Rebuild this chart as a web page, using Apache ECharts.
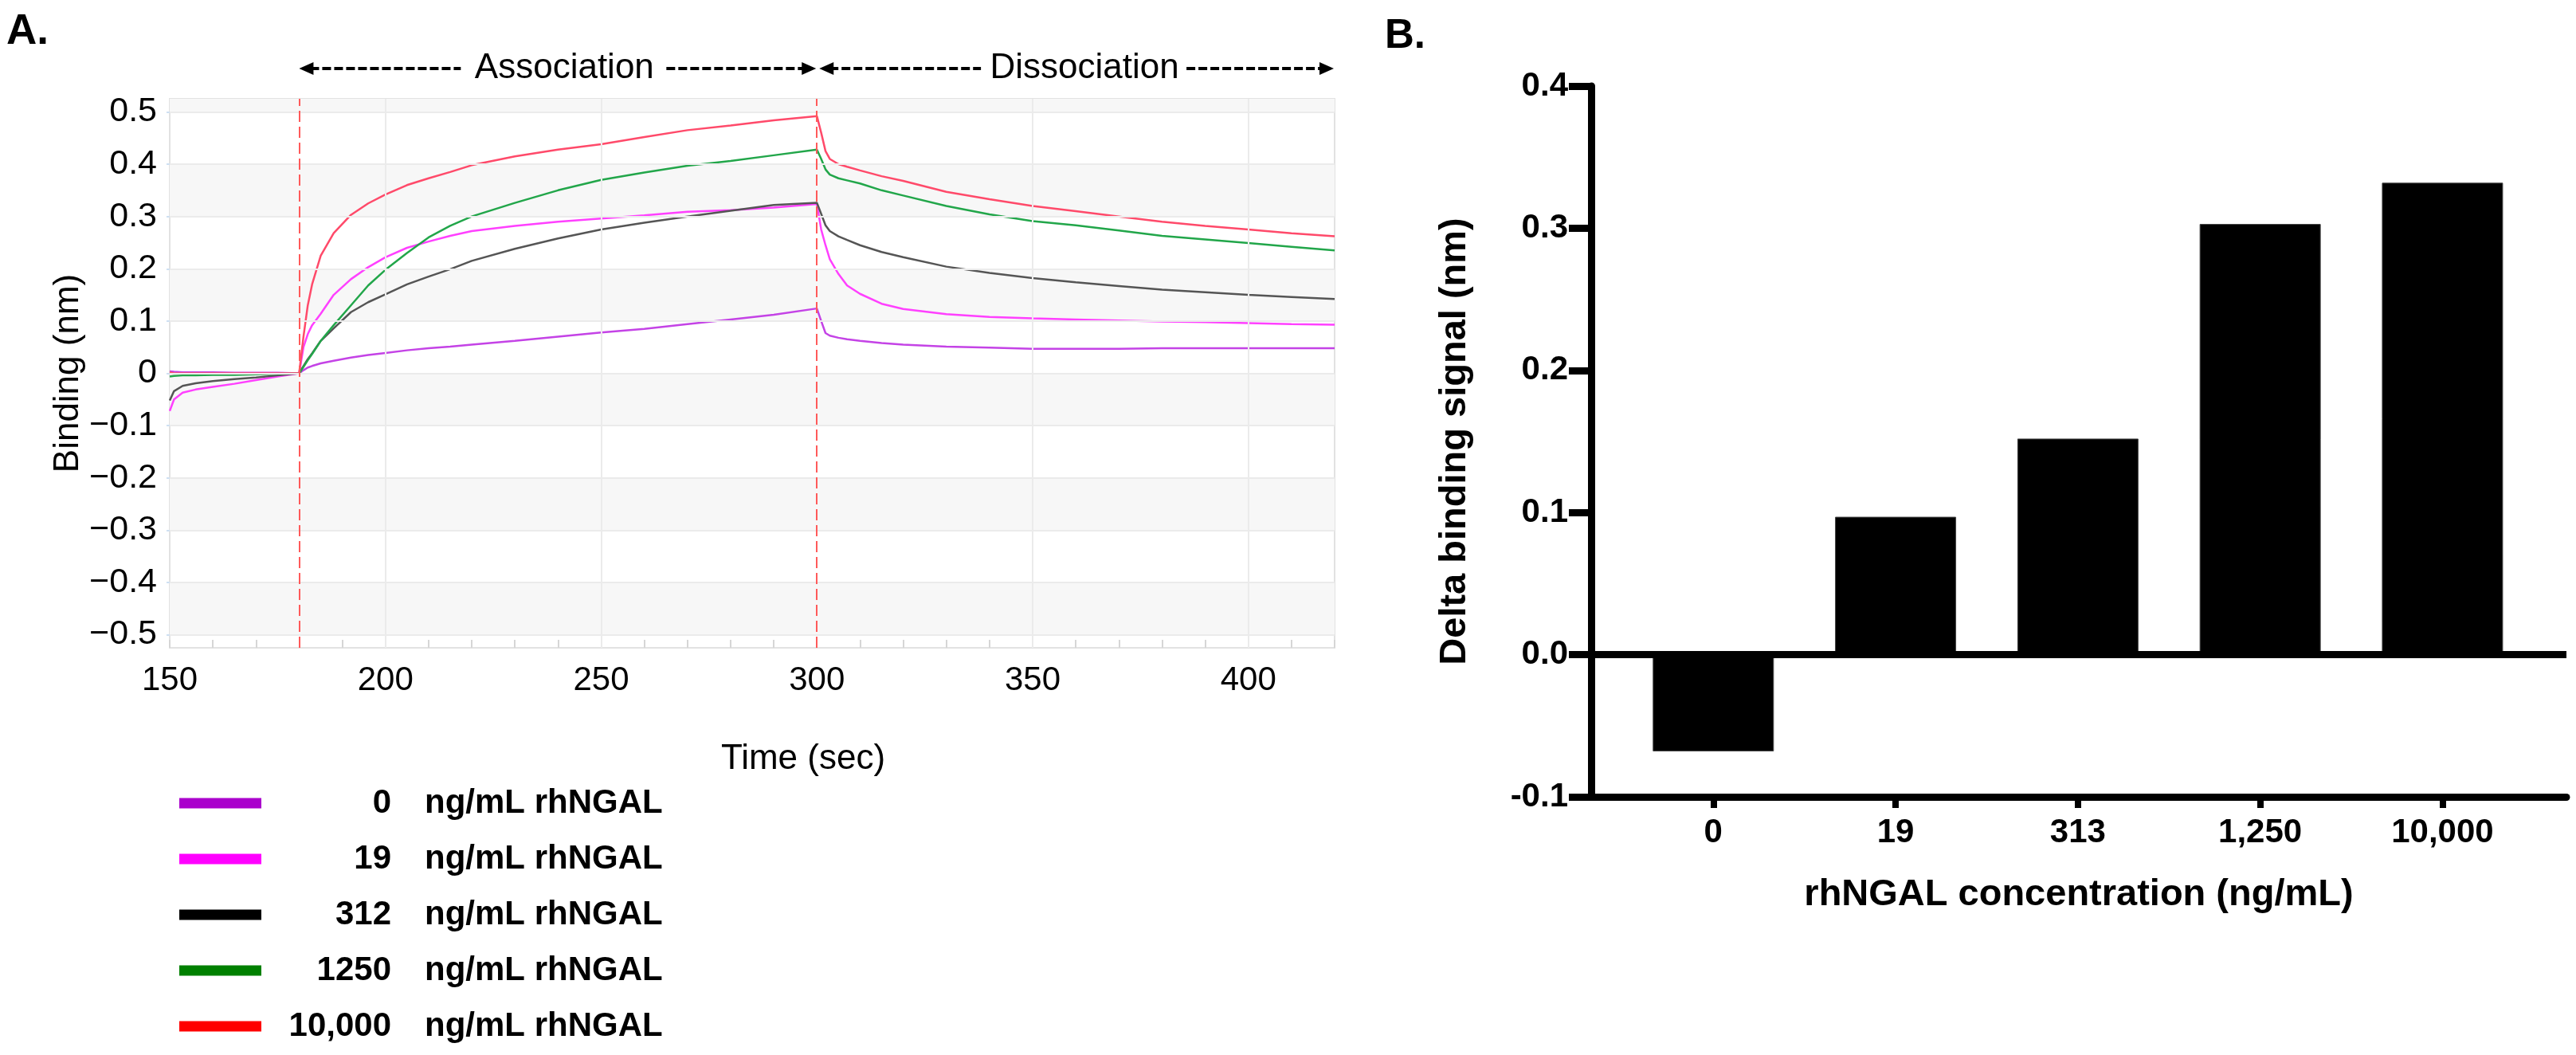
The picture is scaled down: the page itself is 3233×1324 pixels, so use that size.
<!DOCTYPE html>
<html>
<head>
<meta charset="utf-8">
<title>rhNGAL binding</title>
<script src="https://cdn.jsdelivr.net/npm/echarts@6/dist/echarts.min.js"></script>
<style>
  html, body { margin: 0; padding: 0; background: #fff; }
  #chart { width: 3233px; height: 1324px; }
</style>
</head>
<body>
<div id="chart"></div>
<script>
// ---- panel A: binding sensorgram ----
const timeSec = [150, 151, 153, 156, 160, 165, 170, 175, 180, 181, 182, 183, 185, 188, 192, 196, 200, 205, 210, 215, 220,
  230, 240, 250, 260, 270, 280, 290, 300, 301, 302, 303, 305, 307, 310, 315, 320, 330, 340, 350, 360, 370, 380, 390, 400, 410, 420];

const bind0 = [0.004, 0.003, 0.002, 0.002, 0.002, 0.001, 0.001, 0.001, 0, 0.006, 0.011, 0.014, 0.019, 0.024, 0.030, 0.035, 0.039, 0.044, 0.048, 0.051, 0.055,
  0.062, 0.070, 0.078, 0.085, 0.094, 0.103, 0.112, 0.124, 0.100, 0.077, 0.072, 0.068, 0.065, 0.062, 0.058, 0.055, 0.051, 0.049, 0.047, 0.047, 0.047, 0.048, 0.048, 0.048, 0.048, 0.048];
const bind19 = [-0.072, -0.050, -0.037, -0.031, -0.026, -0.020, -0.013, -0.006, 0, 0.050, 0.075, 0.092, 0.114, 0.150, 0.180, 0.203, 0.222, 0.240, 0.252, 0.263, 0.272,
  0.282, 0.290, 0.296, 0.302, 0.309, 0.312, 0.317, 0.324, 0.275, 0.245, 0.218, 0.190, 0.168, 0.152, 0.133, 0.123, 0.113, 0.108, 0.105, 0.103, 0.101, 0.099, 0.098, 0.096, 0.094, 0.093];
const bind312 = [-0.052, -0.034, -0.024, -0.019, -0.015, -0.011, -0.008, -0.004, 0, 0.014, 0.027, 0.038, 0.062, 0.086, 0.117, 0.136, 0.151, 0.170, 0.185, 0.199, 0.215,
  0.238, 0.258, 0.275, 0.288, 0.300, 0.311, 0.322, 0.326, 0.305, 0.283, 0.272, 0.262, 0.255, 0.245, 0.232, 0.222, 0.204, 0.192, 0.182, 0.174, 0.167, 0.160, 0.155, 0.150, 0.146, 0.142];
const bind1250 = [-0.006, -0.005, -0.004, -0.004, -0.003, -0.003, -0.002, -0.001, 0, 0.012, 0.025, 0.037, 0.062, 0.092, 0.130, 0.168, 0.198, 0.230, 0.260, 0.282, 0.300,
  0.326, 0.350, 0.370, 0.384, 0.397, 0.406, 0.417, 0.428, 0.410, 0.390, 0.380, 0.373, 0.369, 0.363, 0.350, 0.340, 0.320, 0.304, 0.291, 0.283, 0.273, 0.263, 0.256, 0.249, 0.242, 0.235];
const bind10000 = [0.002, 0, 0, 0, 0, 0, 0, 0, 0, 0.070, 0.130, 0.170, 0.225, 0.268, 0.303, 0.325, 0.342, 0.360, 0.373, 0.385, 0.398,
  0.415, 0.428, 0.438, 0.452, 0.465, 0.474, 0.484, 0.492, 0.460, 0.425, 0.410, 0.400, 0.395, 0.388, 0.377, 0.368, 0.347, 0.333, 0.320, 0.310, 0.300, 0.290, 0.282, 0.275, 0.268, 0.262];

const sensorNames = ['0', '19', '312', '1250', '10,000'];
const sensorValues = [bind0, bind19, bind312, bind1250, bind10000];
const lineColors = ['#c443e6', '#ff40ff', '#555555', '#22a64a', '#ff4a6a'];
const legendColors = ['#aa00cc', '#ff00ff', '#000000', '#008000', '#ff0000'];
const bindingTicks = [-0.5, -0.4, -0.3, -0.2, -0.1, 0, 0.1, 0.2, 0.3, 0.4, 0.5];
const timeGrid = [200, 250, 350, 400];
const assocStart = 180, dissocStart = 300, runEnd = 420;

// ---- panel B: delta binding ----
const concLabels = ['0', '19', '313', '1,250', '10,000'];
const deltaSignal = [-0.068, 0.097, 0.152, 0.303, 0.332];

const FONT = 'Liberation Sans, Arial, sans-serif';
const chart = echarts.init(document.getElementById('chart'));

function bindLabel(v) {
  if (Math.abs(v) < 1e-9) return '0';
  return (v < 0 ? '\u2212' : '') + Math.abs(v).toFixed(1);
}

// shaded bands of the sensorgram background
const bands = [[0.5, 0.525], [0.3, 0.4], [0.1, 0.2], [-0.1, 0], [-0.3, -0.2], [-0.5, -0.4]];

// legend numbers are right aligned: pad each one on the left
const measure = document.createElement('canvas').getContext('2d');
measure.font = 'bold 42px ' + FONT;
const numBox = 158;
const legendRich = {
  unit: { padding: [0, 0, 0, 42], fontSize: 42, fontWeight: 'bold', color: '#000', lineHeight: 42, fontFamily: FONT }
};
sensorNames.forEach((n, i) => {
  const w = measure.measureText(n).width;
  legendRich['n' + i] = { padding: [0, 0, 0, Math.max(0, numBox - w)], fontSize: 42, fontWeight: 'bold', color: '#000', lineHeight: 42, fontFamily: FONT };
});

const option = {
  animation: false,
  backgroundColor: '#fff',
  textStyle: { fontFamily: FONT },
  grid: [
    { left: 213, right: 1558, top: 124, bottom: 511, show: true, borderColor: '#e2e2e2', borderWidth: 2, backgroundColor: '#fff' },
    { left: 1997, right: 12, top: 108, bottom: 324 }
  ],
  legend: {
    orient: 'vertical',
    left: 220,
    top: 982,
    icon: 'rect',
    itemWidth: 103,
    itemHeight: 13,
    itemGap: 28,
    selectedMode: false,
    data: sensorNames.map((n, i) => ({ name: n, itemStyle: { color: legendColors[i] } })),
    formatter: n => '{n' + sensorNames.indexOf(n) + '|' + n + '}{unit|ng/mL rhNGAL}',
    textStyle: { rich: legendRich }
  },
  xAxis: [
    {
      type: 'value', gridIndex: 0, min: 150, max: runEnd, interval: 50,
      name: 'Time (sec)', nameLocation: 'middle', nameGap: 118,
      nameTextStyle: { fontSize: 44, color: '#000', padding: [0, 0, 0, 128] },
      axisLine: { show: false, onZero: false },
      axisTick: { show: true, inside: true, length: 10, lineStyle: { color: '#d6d6d6', width: 2 } },
      minorTick: { show: true, splitNumber: 5, length: 10, lineStyle: { color: '#d6d6d6', width: 2 } },
      axisLabel: { fontSize: 42, color: '#000', margin: 20, showMaxLabel: false },
      splitLine: { show: false }
    },
    {
      type: 'value', gridIndex: 1, min: -0.67, max: 4.68,
      name: 'rhNGAL concentration (ng/mL)', nameLocation: 'middle', nameGap: 100,
      nameTextStyle: { fontSize: 47, fontWeight: 'bold', color: '#000' },
      axisLine: { show: true, onZero: false, lineStyle: { color: '#000', width: 9 } },
      axisTick: { show: true, customValues: [0, 1, 2, 3, 4], length: 14, lineStyle: { color: '#000', width: 8 } },
      axisLabel: {
        customValues: [0, 1, 2, 3, 4], fontSize: 42, fontWeight: 'bold', color: '#000', margin: 24,
        formatter: v => concLabels[Math.round(v)]
      },
      splitLine: { show: false }
    }
  ],
  yAxis: [
    {
      type: 'value', gridIndex: 0, min: -0.525, max: 0.525,
      name: 'Binding (nm)', nameLocation: 'middle', nameGap: 100,
      nameTextStyle: { fontSize: 44, color: '#000' },
      axisLine: { show: false, onZero: false },
      axisTick: { show: true, customValues: bindingTicks, length: 4, lineStyle: { color: '#cfe0f2', width: 2 } },
      axisLabel: { customValues: bindingTicks, fontSize: 43, color: '#000', margin: 16, formatter: bindLabel },
      splitLine: { show: false }
    },
    {
      type: 'value', gridIndex: 1, min: -0.1, max: 0.4, interval: 0.1,
      name: 'Delta binding signal (nm)', nameLocation: 'middle', nameGap: 147,
      nameTextStyle: { fontSize: 47, fontWeight: 'bold', color: '#000' },
      axisLine: { show: true, onZero: false, lineStyle: { color: '#000', width: 9 } },
      axisTick: { show: true, length: 28, lineStyle: { color: '#000', width: 9 } },
      axisLabel: { fontSize: 42, fontWeight: 'bold', color: '#000', margin: 29, formatter: v => (Math.round(v * 10) / 10).toFixed(1) },
      splitLine: { show: false }
    }
  ],
  series: [
    {
      // background bands and grid lines
      type: 'line', xAxisIndex: 0, yAxisIndex: 0, data: [], silent: true, z: 1,
      markArea: {
        silent: true,
        itemStyle: { color: '#f7f7f7' },
        data: bands.map(b => [{ yAxis: b[0] }, { yAxis: b[1] }])
      },
      markLine: {
        silent: true, symbol: 'none', label: { show: false },
        lineStyle: { color: '#ebebeb', width: 2, type: 'solid' },
        data: bindingTicks.map(v => ({ yAxis: v })).concat(timeGrid.map(t => ({ xAxis: t })))
      }
    },
    {
      // phase boundaries
      type: 'line', xAxisIndex: 0, yAxisIndex: 0, data: [], silent: true, z: 4,
      markLine: {
        silent: true, symbol: 'none', label: { show: false },
        lineStyle: { color: '#ff5a5a', width: 2, type: [14, 6] },
        data: [{ xAxis: assocStart }, { xAxis: dissocStart }]
      }
    }
  ].concat(sensorNames.map((n, i) => ({
    name: n,
    type: 'line',
    xAxisIndex: 0, yAxisIndex: 0,
    showSymbol: false,
    z: 3,
    color: lineColors[i],
    lineStyle: { width: 2.5, color: lineColors[i] },
    data: timeSec.map((t, k) => [t, sensorValues[i][k]])
  }))).concat([
    {
      name: 'delta',
      type: 'bar',
      xAxisIndex: 1, yAxisIndex: 1,
      barWidth: 152,
      itemStyle: { color: '#000', borderColor: '#444', borderWidth: 1 },
      data: deltaSignal.map((v, i) => [i, v]),
      markLine: {
        silent: true, symbol: 'none', label: { show: false },
        lineStyle: { color: '#000', width: 9, type: 'solid' },
        data: [{ yAxis: 0 }]
      }
    }
  ])
};

chart.setOption(option);

// phase annotations above panel A
const px = t => chart.convertToPixel({ xAxisIndex: 0 }, t);
const xa = px(assocStart), xd = px(dissocStart), xe = px(runEnd);
const ay = 86;
const dash = { stroke: '#000', lineWidth: 4, lineDash: [11, 4] };
const cA = (xa + xd) / 2 + 8, cD = (xd + xe) / 2 + 11;
function head(x, dir) {
  return { type: 'polygon', shape: { points: [[x, ay], [x - dir * 18, ay - 8], [x - dir * 18, ay + 8]] }, style: { fill: '#000' } };
}
chart.setOption({
  graphic: [
    { type: 'text', left: 8, top: 14, style: { text: 'A.', font: 'bold 53px ' + FONT, fill: '#000' } },
    { type: 'text', left: 1738, top: 20, style: { text: 'B.', font: 'bold 51px ' + FONT, fill: '#000' } },
    { type: 'text', x: cA, y: ay, style: { text: 'Association', font: '44px ' + FONT, fill: '#000', align: 'center', verticalAlign: 'middle' } },
    { type: 'text', x: cD, y: ay, style: { text: 'Dissociation', font: '44px ' + FONT, fill: '#000', align: 'center', verticalAlign: 'middle' } },
    { type: 'line', shape: { x1: xa + 14, y1: ay, x2: cA - 130, y2: ay }, style: dash },
    { type: 'line', shape: { x1: cA + 128, y1: ay, x2: xd - 12, y2: ay }, style: dash },
    { type: 'line', shape: { x1: xd + 16, y1: ay, x2: cD - 130, y2: ay }, style: dash },
    { type: 'line', shape: { x1: cD + 128, y1: ay, x2: xe - 12, y2: ay }, style: dash },
    head(xa, -1), head(xd - 1, 1), head(xd + 3, -1), head(xe - 1, 1)
  ]
});
</script>
</body>
</html>
